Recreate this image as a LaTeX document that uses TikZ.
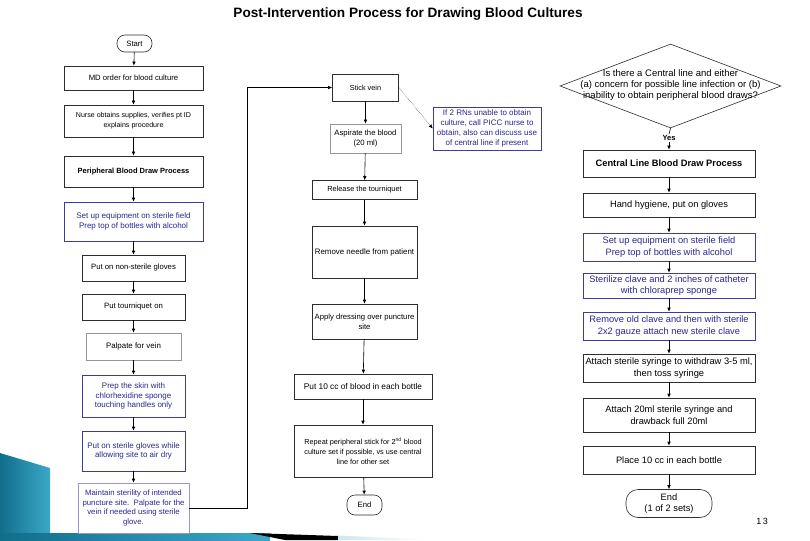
\documentclass[tikz,border=0pt]{standalone}
\usepackage{fontspec}
\setmainfont{Liberation Sans}
\usetikzlibrary{arrows.meta,shapes.geometric}
\definecolor{bxline}{RGB}{45,45,45}
\definecolor{bline}{RGB}{60,60,160}
\definecolor{btext}{RGB}{40,40,145}
\definecolor{lblue}{RGB}{150,150,215}
\definecolor{gline}{RGB}{150,150,150}
\definecolor{tealdark}{RGB}{16,110,138}
\definecolor{tealmid}{RGB}{60,168,200}
\definecolor{teallight}{RGB}{205,232,241}
\begin{document}
\begin{tikzpicture}[x=1pt,y=-1pt,
  fs/.style={font=\fontsize{#1}{9.8}\selectfont},
  rs/.style={font=\fontsize{9.3}{11.5}\selectfont},
  box/.style={draw=bxline, line width=0.6pt, inner sep=1pt, align=center, fs=7.7},
  bbox/.style={box, draw=bline, text=btext},
  bold/.style={font=\fontsize{#1}{9.8}\selectfont\bfseries},
  term/.style={box, rounded corners=8pt},
  sz/.style 2 args={minimum width=#1pt, minimum height=#2pt},
  conn/.style={line width=0.6pt, draw=black, -{Latex[length=4pt,width=3.5pt]}},
]
\useasboundingbox (0,0) rectangle (810,540);
\fill[white] (0,0) rectangle (810,540);
% decoration
\shade[left color=tealdark, right color=tealmid] (0,453) -- (50,468) -- (50,540) -- (0,540) -- cycle;
\shade[left color=tealdark, right color=tealmid] (0,533) rectangle (270,540);
\fill[black] (250,533) -- (338,536) -- (338,540) -- (285,540) -- cycle;
\shade[left color=teallight, right color=white] (338,535.5) -- (432,540) -- (338,540) -- cycle;
% title
\node[font=\fontsize{13.6}{15}\selectfont\bfseries] (title) at (408,14) {Post-Intervention Process for Drawing Blood Cultures};
% left column
\node[term, sz={35}{17}] (start) at (134.5,43.5) {Start};
\node[box, sz={139}{24}] (md) at (133.5,78) {MD order for blood culture};
\node[box, fs=7.1, sz={139}{32}] (nurse) at (133.5,121) {Nurse obtains supplies, verifies pt ID\\explains procedure};
\node[box, bold=7.5, sz={139}{31}] (perip) at (133.5,171.5) {Peripheral Blood Draw Process};
\node[bbox, fs=8, sz={139}{39}] (setup) at (133.5,221.5) {Set up equipment on sterile field\\Prep top of bottles with alcohol};
\node[box, sz={103}{26}] (nsg) at (133.5,268) {Put on non-sterile gloves};
\node[box, sz={103}{26}] (tq) at (133.5,307) {Put tourniquet on};
\node[box, draw=gline, fs=7.9, sz={95}{27}] (palp) at (133.5,346.5) {Palpate for vein};
\node[bbox, fs=8, sz={103}{42}] (prep) at (133.5,396) {Prep the skin with\\chlorhexidine sponge\\touching handles only};
\node[bbox, fs=8, sz={103}{40}] (sg) at (133.5,451) {Put on sterile gloves while\\allowing site to air dry};
\node[bbox, draw=lblue, fs=7.8, sz={111}{50}] (maint) at (133.5,508) {Maintain sterility of intended\\puncture site.\ \ Palpate for the\\vein if needed using sterile\\glove.};
% middle column
\node[box, fs=7.3, sz={66}{27}] (stick) at (365.5,87.5) {Stick vein};
\node[box, draw=gline, sz={71}{29}] (asp) at (365.5,138.5) {Aspirate the blood\\(20 ml)};
\node[box, fs=7.4, sz={105}{19}] (rel) at (364.5,190) {Release the tourniquet};
\node[box, fs=7.9, sz={105}{52}] (rem) at (364.5,252) {Remove needle from patient};
\node[box, sz={105}{35}] (dress) at (364.5,321.5) {Apply dressing over puncture\\site};
\node[box, fs=8.3, sz={138}{25}] (put10) at (363,386.5) {Put 10 cc of blood in each bottle};
\node[box, fs=7.3, sz={138}{52}] (rep) at (363,451) {Repeat peripheral stick for 2\textsuperscript{nd} blood\\culture set if possible, vs use central\\line for other set};
\node[term, sz={35}{20}] (endA) at (364.5,505) {End};
\node[bbox, fs=8, sz={108}{43}] (note) at (487,128.5) {If 2 RNs unable to obtain\\culture, call PICC nurse to\\obtain, also can discuss use\\of central line if present};
% right column
\node[diamond, draw=bxline, line width=0.6pt, inner sep=0pt, sz={221}{84},
  label={[font=\fontsize{9.5}{10.8}\selectfont, align=center, yshift=1pt]center:Is there a Central line and either\\(a) concern for possible line infection or (b)\\inability to obtain peripheral blood draws?}] (dia) at (670.5,86) {};
\node[bold=7.5, inner sep=1pt] (yes) at (669,138) {Yes};
\node[box, font=\fontsize{9.3}{11.5}\selectfont\bfseries, sz={172}{27}] (cl) at (669,163.5) {Central Line Blood Draw Process};
\node[box, rs, sz={172}{24}] (hh) at (669,205) {Hand hygiene, put on gloves};
\node[bbox, rs, sz={172}{28}] (setupB) at (669,247) {Set up equipment on sterile field\\Prep top of bottles with alcohol};
\node[bbox, rs, sz={172}{25}] (ster) at (669,285.5) {Sterilize clave and 2 inches of catheter\\with chloraprep sponge};
\node[bbox, rs, sz={172}{28}] (rmc) at (669,326) {Remove old clave and then with sterile\\2x2 gauze attach new sterile clave};
\node[box, rs, sz={172}{28}] (attA) at (669,368) {Attach sterile syringe to withdraw 3-5 ml,\\then toss syringe};
\node[box, rs, sz={172}{34}] (attB) at (669,415) {Attach 20ml sterile syringe and\\drawback full 20ml};
\node[box, rs, sz={172}{28}] (place) at (669,460) {Place 10 cc in each bottle};
\node[term, rs, rounded corners=12pt, sz={86}{28}] (endB) at (669,503.5) {End\\(1 of 2 sets)};
\node[font=\fontsize{9}{10}\selectfont] (page) at (762,521) {1\hspace{1.5pt}3};
% connectors
\draw[conn] (start) -- (md);
\draw[conn] (md) -- (nurse);
\draw[conn] (nurse) -- (perip);
\draw[conn] (perip) -- (setup);
\draw[conn] (setup) -- (nsg);
\draw[conn] (nsg) -- (tq);
\draw[conn] (tq) -- (palp);
\draw[conn] (palp) -- (prep);
\draw[conn] (prep) -- (sg);
\draw[conn] (sg) -- (maint);
\coordinate (turn) at (247,300);
\draw[conn] (maint.east) -- (maint.east -| turn) -- (stick.west -| turn) -- (stick.west);
\draw[conn] (stick) -- (asp);
\draw[conn] (asp) -- (rel);
\draw[conn] (rel) -- (rem);
\draw[conn] (rem) -- (dress);
\draw[conn] (dress) -- (put10);
\draw[conn] (put10) -- (rep);
\draw[conn] (rep) -- (endA);
\draw[line width=0.4pt, densely dotted, -{Latex[length=4pt,width=3.5pt]}] (stick.east) -- (note.west);
\draw[line width=0.6pt] (dia.south) -- (yes.north);
\draw[conn] (yes.south) -- (cl);
\draw[conn] (cl) -- (hh);
\draw[conn] (hh) -- (setupB);
\draw[conn] (setupB) -- (ster);
\draw[conn] (ster) -- (rmc);
\draw[conn] (rmc) -- (attA);
\draw[conn] (attA) -- (attB);
\draw[conn] (attB) -- (place);
\draw[conn] (place) -- (endB);
\end{tikzpicture}
\end{document}
